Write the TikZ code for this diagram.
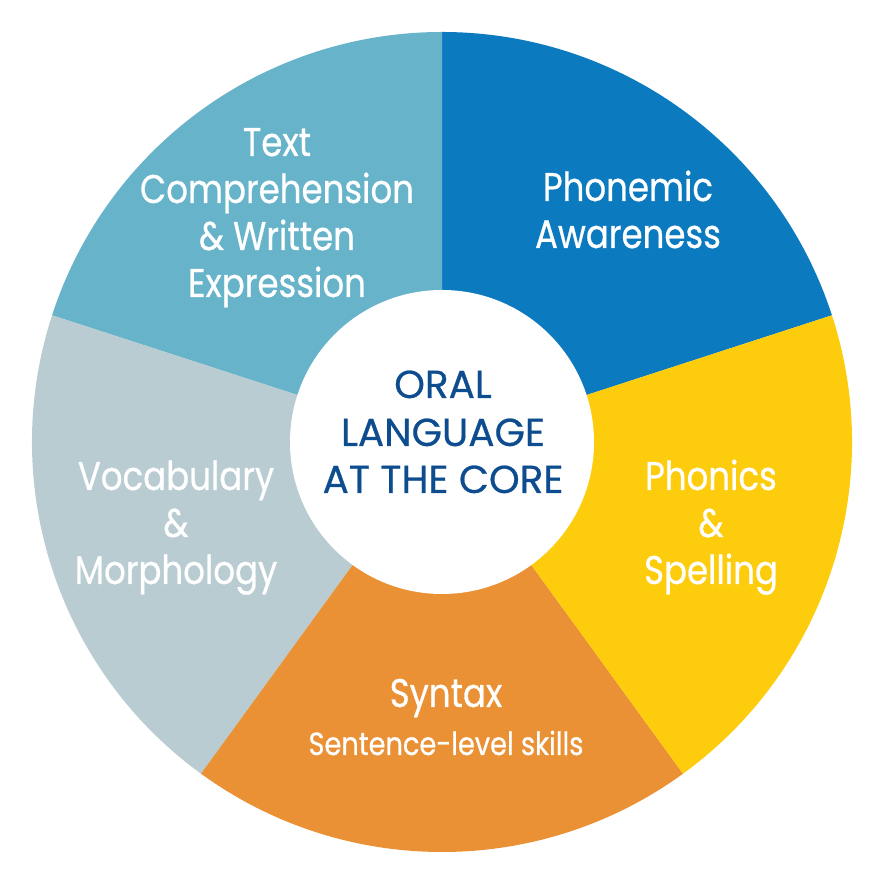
\documentclass[tikz,border=0pt]{standalone}
\usepackage{fontspec}
\setmainfont{Poppins}
\newfontfamily\lblfont{Poppins}[FakeStretch=0.85, FakeBold=0.6]
\newfontfamily\corefont{Poppins}[FakeBold=0.6]
\definecolor{segA}{HTML}{0B7ABF}
\definecolor{segB}{HTML}{67B3CA}
\definecolor{segC}{HTML}{B8CCD2}
\definecolor{segD}{HTML}{E99134}
\definecolor{segE}{HTML}{FDCC0D}
\definecolor{coreblue}{HTML}{0D4C8E}
\begin{document}
\begin{tikzpicture}[x=1pt,y=1pt,
  lbl/.style={anchor=base, text=white, inner sep=0pt, font=\lblfont\fontsize{40}{46}\selectfont},
  small/.style={anchor=base, text=white, inner sep=0pt, font=\lblfont\fontsize{32}{38}\selectfont},
  core/.style={anchor=base, text=coreblue, inner sep=0pt, font=\corefont\fontsize{39}{46}\selectfont}]
\useasboundingbox (0,0) rectangle (885,885);
\coordinate (C) at (442,443);
\def\R{410}
\fill[segA] (C) -- ++(18:\R) arc[start angle=18, end angle=90, radius=\R] -- cycle;
\fill[segB] (C) -- ++(90:\R) arc[start angle=90, end angle=162, radius=\R] -- cycle;
\fill[segC] (C) -- ++(162:\R) arc[start angle=162, end angle=234, radius=\R] -- cycle;
\fill[segD] (C) -- ++(234:\R) arc[start angle=234, end angle=306, radius=\R] -- cycle;
\fill[segE] (C) -- ++(306:\R) arc[start angle=306, end angle=378, radius=\R] -- cycle;
\fill[white] (C) circle[radius=152];
% Text comprehension
\node[lbl] (t1) at (277,729) {Text};
\node[lbl] (t2) at (277,682) {Comprehension};
\node[lbl] (t3) at (277,635) {\& Written};
\node[lbl] (t4) at (277,588) {Expression};
% Phonemic
\node[lbl] (p1) at (628,684) {Phonemic};
\node[lbl] (p2) at (628,637) {Awareness};
% core
\node[core] (c1) at (443,487) {ORAL};
\node[core] (c2) at (443,439) {LANGUAGE};
\node[core] (c3) at (443,392) {AT THE CORE};
% vocab
\node[lbl] (v1) at (176,395) {Vocabulary};
\node[lbl] (v2) at (176,348) {\&};
\node[lbl] (v3) at (176,301) {Morphology};
% phonics
\node[lbl] (h1) at (711,395) {Phonics};
\node[lbl] (h2) at (711,348) {\&};
\node[lbl] (h3) at (711,301) {Spelling};
% syntax
\node[lbl] (s1) at (446,178) {Syntax};
\node[small] (s2) at (446,130) {Sentence-level skills};
\end{tikzpicture}
\end{document}
